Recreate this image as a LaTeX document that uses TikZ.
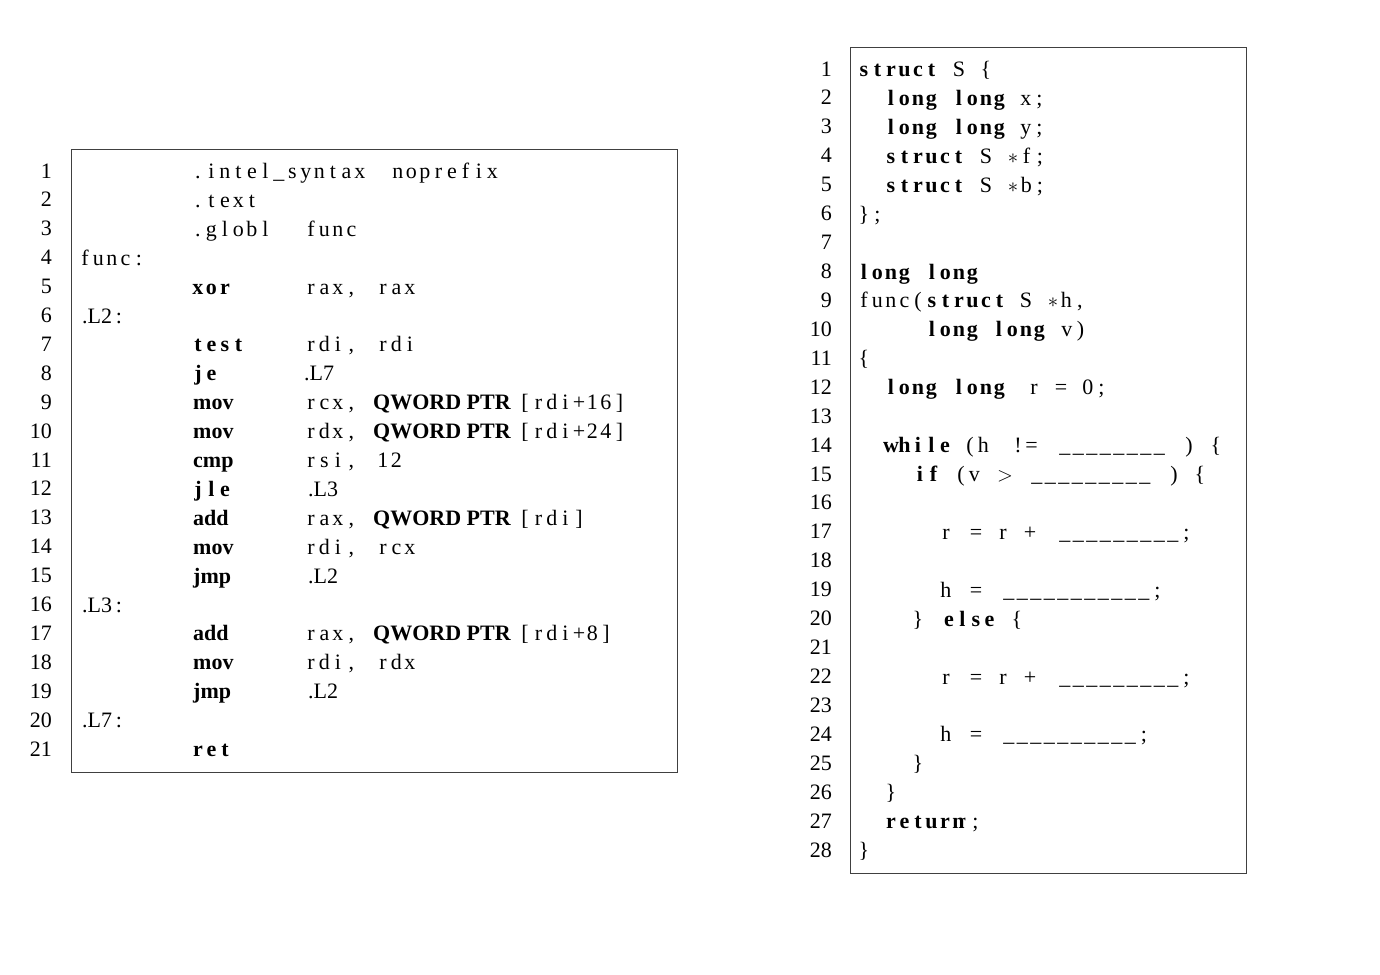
\documentclass[tikz,border=0pt]{standalone}
\usepackage{fontspec}
\setmainfont{Liberation Serif}
\newcommand\fxi[1]{\ifx#1\relax\else\makebox[13.5pt][c]{#1}\expandafter\fxi\fi}
\newcommand\fx[1]{\fxi#1\relax}
\newcommand\fb[1]{{\bfseries\fxi#1\relax}}
\newcommand\tb[1]{{\bfseries #1}}
\newcommand\lrow[1]{\the\numexpr 178+289*(#1-1)/10\relax}
\newcommand\rrow[1]{\the\numexpr 76+2893*(#1-1)/100\relax}
\newcommand\LS[3]{\node[txt] at (#1,\lrow{#2}) {#3};}
\newcommand\RS[3]{\node[txt] at (#1,\rrow{#2}) {#3};}
\begin{document}
\begin{tikzpicture}[x=1pt,y=-1pt,
  txt/.style={anchor=base west,inner sep=0pt,font=\fontsize{22}{26}\selectfont},
  num/.style={anchor=base east,inner sep=0pt,font=\fontsize{22}{26}\selectfont},
  box/.style={draw=black!75,line width=0.9pt}]
\useasboundingbox (0,0) rectangle (1380,974);
\draw[box] (71,149) rectangle (677,772);
\draw[box] (850,47) rectangle (1246,873);
\foreach \i in {1,...,21}{\node[num] at (52,{178+28.9*(\i-1)}) {\i};}
\foreach \i in {1,...,28}{\node[num] at (832,{76+28.93*(\i-1)}) {\i};}
% left listing
\LS{191}{1}{\fx{.intel\_syntax}}\LS{391}{1}{\fx{noprefix}}
\LS{191}{2}{\fx{.text}}
\LS{191}{3}{\fx{.globl}}\LS{304}{3}{\fx{func}}
\LS{78}{4}{\fx{func:}}
\LS{191}{5}{\fb{xor}}\LS{304}{5}{\fx{rax,}}\LS{376}{5}{\fx{rax}}
\LS{82}{6}{.L2\,:}
\LS{191}{7}{\fb{test}}\LS{304}{7}{\fx{rdi,}}\LS{376}{7}{\fx{rdi}}
\LS{191}{8}{\fb{je}}\LS{304}{8}{.L7}
\LS{193}{9}{\tb{mov}}\LS{304}{9}{\fx{rcx,}}\LS{373}{9}{\tb{QWORD PTR}}\LS{518}{9}{\fx{[rdi+16]}}
\LS{193}{10}{\tb{mov}}\LS{304}{10}{\fx{rdx,}}\LS{373}{10}{\tb{QWORD PTR}}\LS{518}{10}{\fx{[rdi+24]}}
\LS{193}{11}{\tb{cmp}}\LS{304}{11}{\fx{rsi,}}\LS{376}{11}{\fx{12}}
\LS{191}{12}{\fb{jle}}\LS{308}{12}{.L3}
\LS{193}{13}{\tb{add}}\LS{304}{13}{\fx{rax,}}\LS{373}{13}{\tb{QWORD PTR}}\LS{518}{13}{\fx{[rdi]}}
\LS{193}{14}{\tb{mov}}\LS{304}{14}{\fx{rdi,}}\LS{376}{14}{\fx{rcx}}
\LS{193}{15}{\tb{jmp}}\LS{308}{15}{.L2}
\LS{82}{16}{.L3\,:}
\LS{193}{17}{\tb{add}}\LS{304}{17}{\fx{rax,}}\LS{373}{17}{\tb{QWORD PTR}}\LS{518}{17}{\fx{[rdi+8]}}
\LS{193}{18}{\tb{mov}}\LS{304}{18}{\fx{rdi,}}\LS{376}{18}{\fx{rdx}}
\LS{193}{19}{\tb{jmp}}\LS{308}{19}{.L2}
\LS{82}{20}{.L7\,:}
\LS{191}{21}{\fb{ret}}
% right listing
\RS{857}{1}{\fb{struct}}\RS{952}{1}{\fx{S}}\RS{979}{1}{\fx{\{}}
\RS{884}{2}{\fb{long}}\RS{952}{2}{\fb{long}}\RS{1019}{2}{\fx{x;}}
\RS{884}{3}{\fb{long}}\RS{952}{3}{\fb{long}}\RS{1019}{3}{\fx{y;}}
\RS{884}{4}{\fb{struct}}\RS{979}{4}{\fx{S}}\RS{1006}{4}{\fx{{$*$}f;}}
\RS{884}{5}{\fb{struct}}\RS{979}{5}{\fx{S}}\RS{1006}{5}{\fx{{$*$}b;}}
\RS{857}{6}{\fx{\};}}
\RS{857}{8}{\fb{long}}\RS{925}{8}{\fb{long}}
\RS{857}{9}{\fx{func(}}\RS{925}{9}{\fb{struct}}\RS{1019}{9}{\fx{S}}\RS{1046}{9}{\fx{{$*$}h,}}
\RS{925}{10}{\fb{long}}\RS{992}{10}{\fb{long}}\RS{1060}{10}{\fx{v)}}
\RS{857}{11}{\fx{\{}}
\RS{884}{12}{\fb{long}}\RS{952}{12}{\fb{long}}\RS{1027}{12}{\fx{r}}\RS{1054}{12}{\fx{=}}\RS{1081}{12}{\fx{0;}}
\RS{884}{14}{\fb{while}}\RS{963}{14}{\fx{(h}}\RS{1011}{14}{\fx{!=}}\RS{1058}{14}{\fx{\_\_\_\_\_\_\_\_}}\RS{1182}{14}{\fx{)}}\RS{1209}{14}{\fx{\{}}
\RS{913}{15}{\fb{if}}\RS{954}{15}{\fx{(v}}\RS{998}{15}{\fx{{$>$}}}\RS{1030}{15}{\fx{\_\_\_\_\_\_\_\_\_}}\RS{1167}{15}{\fx{)}}\RS{1193}{15}{\fx{\{}}
\RS{939}{17}{\fx{r}}\RS{969}{17}{\fx{=}}\RS{996}{17}{\fx{r}}\RS{1023}{17}{\fx{+}}\RS{1058}{17}{\fx{\_\_\_\_\_\_\_\_\_;}}
\RS{939}{19}{\fx{h}}\RS{969}{19}{\fx{=}}\RS{1002}{19}{\fx{\_\_\_\_\_\_\_\_\_\_\_;}}
\RS{911}{20}{\fx{\}}}\RS{942}{20}{\fb{else}}\RS{1010}{20}{\fx{\{}}
\RS{939}{22}{\fx{r}}\RS{969}{22}{\fx{=}}\RS{996}{22}{\fx{r}}\RS{1023}{22}{\fx{+}}\RS{1058}{22}{\fx{\_\_\_\_\_\_\_\_\_;}}
\RS{939}{24}{\fx{h}}\RS{969}{24}{\fx{=}}\RS{1002}{24}{\fx{\_\_\_\_\_\_\_\_\_\_;}}
\RS{911}{25}{\fx{\}}}
\RS{884}{26}{\fx{\}}}
\RS{884}{27}{\fb{return}}\RS{955}{27}{\fx{r;}}
\RS{857}{28}{\fx{\}}}
\end{tikzpicture}
\end{document}
